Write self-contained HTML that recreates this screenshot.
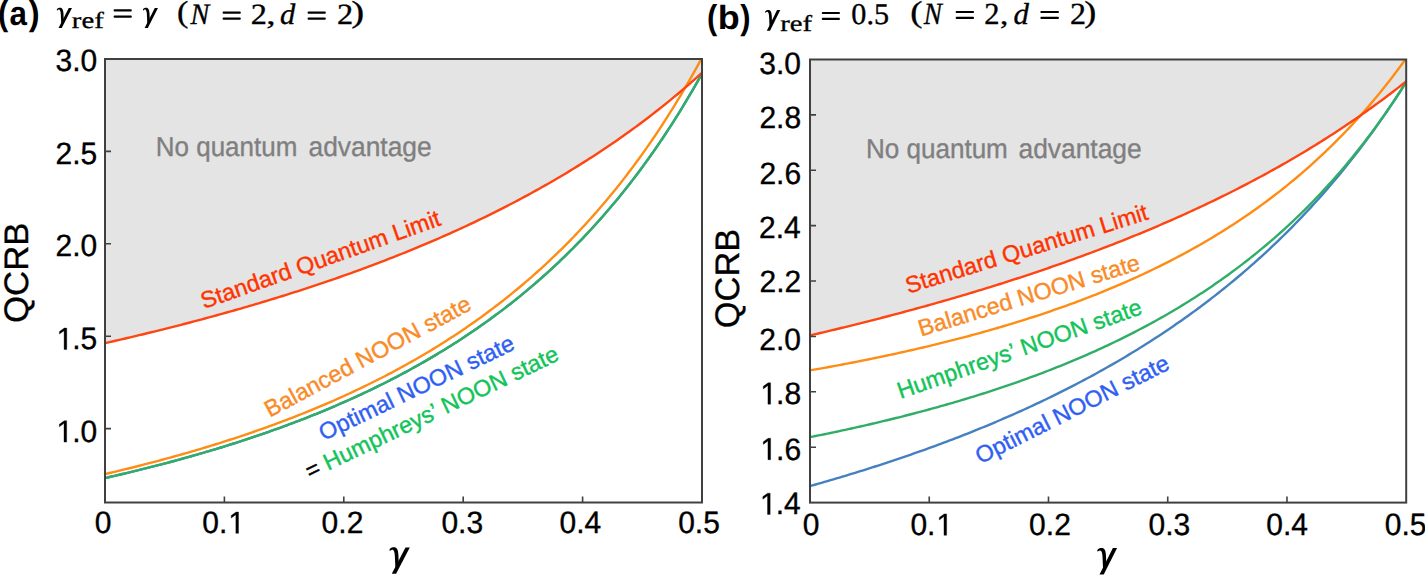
<!DOCTYPE html>
<html><head><meta charset="utf-8"><style>html,body{margin:0;padding:0;background:#fff;overflow:hidden}svg{display:block}</style></head>
<body><svg xmlns="http://www.w3.org/2000/svg" width="1425" height="575" viewBox="0 0 1425 575">
<rect x="0" y="0" width="1425" height="575" fill="#fff"/>
<clipPath id="clipa"><rect x="105.0" y="59.0" width="597.0" height="443.5"/></clipPath>
<g clip-path="url(#clipa)">
<path d="M105.00,59.00 L702.00,59.00 L712.34,63.26 L709.35,66.05 L706.37,68.81 L703.38,71.55 L700.40,74.25 L697.41,76.93 L694.43,79.58 L691.44,82.21 L688.46,84.81 L685.47,87.39 L682.49,89.94 L679.50,92.46 L676.52,94.97 L673.53,97.44 L670.55,99.90 L667.56,102.33 L664.58,104.74 L661.60,107.12 L658.61,109.48 L655.62,111.82 L652.64,114.14 L649.65,116.44 L646.67,118.72 L643.68,120.97 L640.70,123.21 L637.72,125.42 L634.73,127.62 L631.75,129.80 L628.76,131.95 L625.77,134.09 L622.79,136.21 L619.80,138.31 L616.82,140.39 L613.84,142.45 L610.85,144.49 L607.87,146.52 L604.88,148.53 L601.89,150.52 L598.91,152.50 L595.92,154.46 L592.94,156.40 L589.95,158.33 L586.97,160.24 L583.99,162.13 L581.00,164.01 L578.01,165.87 L575.03,167.72 L572.05,169.55 L569.06,171.36 L566.08,173.16 L563.09,174.95 L560.11,176.72 L557.12,178.48 L554.13,180.23 L551.15,181.96 L548.16,183.67 L545.18,185.38 L542.20,187.07 L539.21,188.74 L536.23,190.40 L533.24,192.05 L530.25,193.69 L527.27,195.32 L524.28,196.93 L521.30,198.53 L518.31,200.11 L515.33,201.69 L512.35,203.25 L509.36,204.80 L506.38,206.34 L503.39,207.87 L500.40,209.39 L497.42,210.89 L494.44,212.39 L491.45,213.87 L488.47,215.34 L485.48,216.80 L482.50,218.25 L479.51,219.69 L476.52,221.12 L473.54,222.54 L470.55,223.95 L467.57,225.35 L464.59,226.74 L461.60,228.12 L458.62,229.49 L455.63,230.84 L452.64,232.19 L449.66,233.53 L446.67,234.86 L443.69,236.19 L440.70,237.50 L437.72,238.80 L434.74,240.10 L431.75,241.38 L428.76,242.66 L425.78,243.92 L422.80,245.18 L419.81,246.43 L416.83,247.68 L413.84,248.91 L410.86,250.13 L407.87,251.35 L404.88,252.56 L401.90,253.76 L398.91,254.95 L395.93,256.14 L392.95,257.31 L389.96,258.48 L386.98,259.65 L383.99,260.80 L381.00,261.95 L378.02,263.09 L375.03,264.22 L372.05,265.34 L369.07,266.46 L366.08,267.57 L363.10,268.67 L360.11,269.77 L357.12,270.86 L354.14,271.94 L351.15,273.01 L348.17,274.08 L345.19,275.14 L342.20,276.20 L339.22,277.25 L336.23,278.29 L333.25,279.32 L330.26,280.35 L327.27,281.38 L324.29,282.39 L321.31,283.40 L318.32,284.41 L315.34,285.41 L312.35,286.40 L309.37,287.38 L306.38,288.36 L303.39,289.34 L300.41,290.31 L297.43,291.27 L294.44,292.23 L291.46,293.18 L288.47,294.12 L285.49,295.06 L282.50,296.00 L279.51,296.93 L276.53,297.85 L273.54,298.77 L270.56,299.68 L267.58,300.59 L264.59,301.49 L261.61,302.39 L258.62,303.28 L255.64,304.17 L252.65,305.05 L249.66,305.92 L246.68,306.80 L243.69,307.66 L240.71,308.53 L237.73,309.38 L234.74,310.23 L231.75,311.08 L228.77,311.92 L225.78,312.76 L222.80,313.60 L219.81,314.42 L216.83,315.25 L213.84,316.07 L210.86,316.88 L207.88,317.69 L204.89,318.50 L201.91,319.30 L198.92,320.10 L195.94,320.89 L192.95,321.68 L189.97,322.47 L186.98,323.25 L184.00,324.02 L181.01,324.80 L178.03,325.56 L175.04,326.33 L172.06,327.09 L169.07,327.84 L166.09,328.59 L163.10,329.34 L160.12,330.09 L157.13,330.83 L154.15,331.56 L151.16,332.29 L148.18,333.02 L145.19,333.75 L142.21,334.47 L139.22,335.19 L136.24,335.90 L133.25,336.61 L130.27,337.32 L127.28,338.02 L124.30,338.72 L121.31,339.41 L118.33,340.11 L115.34,340.79 L112.36,341.48 L109.37,342.16 L106.39,342.84 L103.40,343.51 L100.42,344.19 L97.43,344.85 L94.45,345.52 L91.46,346.18 Z" fill="#e4e4e4"/>
<path d="M92.66,480.80 L95.64,480.14 L98.63,479.48 L101.61,478.82 L104.60,478.14 L107.58,477.47 L110.57,476.79 L113.55,476.10 L116.54,475.41 L119.52,474.71 L122.51,474.01 L125.50,473.31 L128.48,472.59 L131.47,471.88 L134.45,471.15 L137.44,470.42 L140.42,469.69 L143.41,468.95 L146.39,468.20 L149.38,467.45 L152.36,466.69 L155.34,465.93 L158.33,465.16 L161.31,464.38 L164.30,463.60 L167.28,462.81 L170.27,462.02 L173.25,461.22 L176.24,460.41 L179.22,459.60 L182.21,458.78 L185.19,457.95 L188.18,457.11 L191.16,456.27 L194.15,455.43 L197.13,454.57 L200.12,453.71 L203.11,452.84 L206.09,451.97 L209.07,451.09 L212.06,450.20 L215.04,449.30 L218.03,448.40 L221.01,447.48 L224.00,446.56 L226.98,445.64 L229.97,444.70 L232.95,443.76 L235.94,442.81 L238.93,441.85 L241.91,440.88 L244.89,439.91 L247.88,438.92 L250.86,437.93 L253.85,436.93 L256.84,435.92 L259.82,434.90 L262.81,433.88 L265.79,432.84 L268.77,431.80 L271.76,430.74 L274.75,429.68 L277.73,428.61 L280.71,427.53 L283.70,426.44 L286.69,425.33 L289.67,424.22 L292.65,423.10 L295.64,421.97 L298.62,420.83 L301.61,419.68 L304.60,418.52 L307.58,417.35 L310.56,416.16 L313.55,414.97 L316.53,413.77 L319.52,412.55 L322.50,411.32 L325.49,410.09 L328.48,408.84 L331.46,407.58 L334.44,406.30 L337.43,405.02 L340.41,403.72 L343.40,402.41 L346.38,401.09 L349.37,399.76 L352.36,398.41 L355.34,397.06 L358.32,395.68 L361.31,394.30 L364.29,392.90 L367.28,391.49 L370.26,390.06 L373.25,388.62 L376.24,387.17 L379.22,385.70 L382.21,384.22 L385.19,382.73 L388.17,381.21 L391.16,379.69 L394.14,378.15 L397.13,376.59 L400.12,375.02 L403.10,373.43 L406.09,371.83 L409.07,370.21 L412.05,368.57 L415.04,366.92 L418.02,365.25 L421.01,363.56 L424.00,361.86 L426.98,360.14 L429.97,358.40 L432.95,356.64 L435.94,354.87 L438.92,353.07 L441.90,351.26 L444.89,349.43 L447.88,347.57 L450.86,345.70 L453.85,343.81 L456.83,341.90 L459.81,339.97 L462.80,338.02 L465.78,336.05 L468.77,334.05 L471.75,332.04 L474.74,330.00 L477.73,327.94 L480.71,325.85 L483.70,323.75 L486.68,321.62 L489.66,319.47 L492.65,317.29 L495.63,315.09 L498.62,312.86 L501.61,310.61 L504.59,308.34 L507.58,306.03 L510.56,303.71 L513.55,301.35 L516.53,298.97 L519.51,296.56 L522.50,294.12 L525.49,291.66 L528.47,289.16 L531.45,286.64 L534.44,284.09 L537.42,281.50 L540.41,278.89 L543.39,276.25 L546.38,273.57 L549.37,270.86 L552.35,268.12 L555.34,265.35 L558.32,262.54 L561.30,259.70 L564.29,256.82 L567.27,253.91 L570.26,250.96 L573.25,247.98 L576.23,244.96 L579.22,241.90 L582.20,238.80 L585.19,235.67 L588.17,232.49 L591.15,229.27 L594.14,226.02 L597.12,222.72 L600.11,219.38 L603.10,215.99 L606.08,212.57 L609.06,209.09 L612.05,205.57 L615.03,202.01 L618.02,198.40 L621.00,194.74 L623.99,191.03 L626.98,187.28 L629.96,183.47 L632.95,179.61 L635.93,175.70 L638.92,171.73 L641.90,167.72 L644.88,163.64 L647.87,159.51 L650.86,155.32 L653.84,151.08 L656.83,146.77 L659.81,142.41 L662.80,137.98 L665.78,133.49 L668.76,128.94 L671.75,124.32 L674.74,119.63 L677.72,114.88 L680.71,110.06 L683.69,105.17 L686.67,100.20 L689.66,95.16 L692.64,90.05 L695.63,84.86 L698.62,79.60 L701.60,74.25 L704.58,68.83 L707.57,63.32 L710.55,57.73 L713.54,52.05" fill="none" stroke="#4580bf" stroke-width="2.4" stroke-linejoin="round"/>
<path d="M92.66,480.80 L95.64,480.14 L98.63,479.48 L101.61,478.82 L104.60,478.14 L107.58,477.47 L110.57,476.79 L113.55,476.10 L116.54,475.41 L119.52,474.71 L122.51,474.01 L125.50,473.31 L128.48,472.59 L131.47,471.88 L134.45,471.15 L137.44,470.42 L140.42,469.69 L143.41,468.95 L146.39,468.20 L149.38,467.45 L152.36,466.69 L155.34,465.93 L158.33,465.16 L161.31,464.38 L164.30,463.60 L167.28,462.81 L170.27,462.02 L173.25,461.22 L176.24,460.41 L179.22,459.60 L182.21,458.78 L185.19,457.95 L188.18,457.11 L191.16,456.27 L194.15,455.43 L197.13,454.57 L200.12,453.71 L203.11,452.84 L206.09,451.97 L209.07,451.09 L212.06,450.20 L215.04,449.30 L218.03,448.40 L221.01,447.48 L224.00,446.56 L226.98,445.64 L229.97,444.70 L232.95,443.76 L235.94,442.81 L238.93,441.85 L241.91,440.88 L244.89,439.91 L247.88,438.92 L250.86,437.93 L253.85,436.93 L256.84,435.92 L259.82,434.90 L262.81,433.88 L265.79,432.84 L268.77,431.80 L271.76,430.74 L274.75,429.68 L277.73,428.61 L280.71,427.53 L283.70,426.44 L286.69,425.33 L289.67,424.22 L292.65,423.10 L295.64,421.97 L298.62,420.83 L301.61,419.68 L304.60,418.52 L307.58,417.35 L310.56,416.16 L313.55,414.97 L316.53,413.77 L319.52,412.55 L322.50,411.32 L325.49,410.09 L328.48,408.84 L331.46,407.58 L334.44,406.30 L337.43,405.02 L340.41,403.72 L343.40,402.41 L346.38,401.09 L349.37,399.76 L352.36,398.41 L355.34,397.06 L358.32,395.68 L361.31,394.30 L364.29,392.90 L367.28,391.49 L370.26,390.06 L373.25,388.62 L376.24,387.17 L379.22,385.70 L382.21,384.22 L385.19,382.73 L388.17,381.21 L391.16,379.69 L394.14,378.15 L397.13,376.59 L400.12,375.02 L403.10,373.43 L406.09,371.83 L409.07,370.21 L412.05,368.57 L415.04,366.92 L418.02,365.25 L421.01,363.56 L424.00,361.86 L426.98,360.14 L429.97,358.40 L432.95,356.64 L435.94,354.87 L438.92,353.07 L441.90,351.26 L444.89,349.43 L447.88,347.57 L450.86,345.70 L453.85,343.81 L456.83,341.90 L459.81,339.97 L462.80,338.02 L465.78,336.05 L468.77,334.05 L471.75,332.04 L474.74,330.00 L477.73,327.94 L480.71,325.85 L483.70,323.75 L486.68,321.62 L489.66,319.47 L492.65,317.29 L495.63,315.09 L498.62,312.86 L501.61,310.61 L504.59,308.34 L507.58,306.03 L510.56,303.71 L513.55,301.35 L516.53,298.97 L519.51,296.56 L522.50,294.12 L525.49,291.66 L528.47,289.16 L531.45,286.64 L534.44,284.09 L537.42,281.50 L540.41,278.89 L543.39,276.25 L546.38,273.57 L549.37,270.86 L552.35,268.12 L555.34,265.35 L558.32,262.54 L561.30,259.70 L564.29,256.82 L567.27,253.91 L570.26,250.96 L573.25,247.98 L576.23,244.96 L579.22,241.90 L582.20,238.80 L585.19,235.67 L588.17,232.49 L591.15,229.27 L594.14,226.02 L597.12,222.72 L600.11,219.38 L603.10,215.99 L606.08,212.57 L609.06,209.09 L612.05,205.57 L615.03,202.01 L618.02,198.40 L621.00,194.74 L623.99,191.03 L626.98,187.28 L629.96,183.47 L632.95,179.61 L635.93,175.70 L638.92,171.73 L641.90,167.72 L644.88,163.64 L647.87,159.51 L650.86,155.32 L653.84,151.08 L656.83,146.77 L659.81,142.41 L662.80,137.98 L665.78,133.49 L668.76,128.94 L671.75,124.32 L674.74,119.63 L677.72,114.88 L680.71,110.06 L683.69,105.17 L686.67,100.20 L689.66,95.16 L692.64,90.05 L695.63,84.86 L698.62,79.60 L701.60,74.25 L704.58,68.83 L707.57,63.32 L710.55,57.73 L713.54,52.05" fill="none" stroke="#30ae68" stroke-width="2.4" stroke-linejoin="round"/>
<path d="M92.66,476.91 L95.64,476.24 L98.63,475.56 L101.61,474.87 L104.60,474.18 L107.58,473.49 L110.57,472.78 L113.55,472.08 L116.54,471.37 L119.52,470.65 L122.51,469.93 L125.50,469.20 L128.48,468.47 L131.47,467.73 L134.45,466.98 L137.44,466.23 L140.42,465.48 L143.41,464.71 L146.39,463.95 L149.38,463.17 L152.36,462.39 L155.34,461.60 L158.33,460.81 L161.31,460.01 L164.30,459.21 L167.28,458.40 L170.27,457.58 L173.25,456.75 L176.24,455.92 L179.22,455.09 L182.21,454.24 L185.19,453.39 L188.18,452.53 L191.16,451.67 L194.15,450.80 L197.13,449.92 L200.12,449.03 L203.11,448.14 L206.09,447.24 L209.07,446.33 L212.06,445.41 L215.04,444.49 L218.03,443.56 L221.01,442.62 L224.00,441.67 L226.98,440.72 L229.97,439.75 L232.95,438.78 L235.94,437.80 L238.93,436.82 L241.91,435.82 L244.89,434.82 L247.88,433.81 L250.86,432.78 L253.85,431.75 L256.84,430.72 L259.82,429.67 L262.81,428.61 L265.79,427.54 L268.77,426.47 L271.76,425.38 L274.75,424.29 L277.73,423.19 L280.71,422.07 L283.70,420.95 L286.69,419.82 L289.67,418.67 L292.65,417.52 L295.64,416.36 L298.62,415.18 L301.61,414.00 L304.60,412.80 L307.58,411.59 L310.56,410.38 L313.55,409.15 L316.53,407.91 L319.52,406.66 L322.50,405.39 L325.49,404.12 L328.48,402.83 L331.46,401.54 L334.44,400.23 L337.43,398.90 L340.41,397.57 L343.40,396.22 L346.38,394.86 L349.37,393.49 L352.36,392.10 L355.34,390.71 L358.32,389.29 L361.31,387.87 L364.29,386.43 L367.28,384.97 L370.26,383.51 L373.25,382.03 L376.24,380.53 L379.22,379.02 L382.21,377.49 L385.19,375.95 L388.17,374.40 L391.16,372.83 L394.14,371.24 L397.13,369.64 L400.12,368.02 L403.10,366.39 L406.09,364.74 L409.07,363.07 L412.05,361.38 L415.04,359.68 L418.02,357.96 L421.01,356.23 L424.00,354.47 L426.98,352.70 L429.97,350.91 L432.95,349.10 L435.94,347.27 L438.92,345.43 L441.90,343.56 L444.89,341.67 L447.88,339.77 L450.86,337.84 L453.85,335.90 L456.83,333.93 L459.81,331.94 L462.80,329.93 L465.78,327.90 L468.77,325.85 L471.75,323.77 L474.74,321.67 L477.73,319.55 L480.71,317.41 L483.70,315.24 L486.68,313.05 L489.66,310.83 L492.65,308.59 L495.63,306.33 L498.62,304.03 L501.61,301.72 L504.59,299.37 L507.58,297.00 L510.56,294.61 L513.55,292.18 L516.53,289.73 L519.51,287.25 L522.50,284.74 L525.49,282.20 L528.47,279.64 L531.45,277.04 L534.44,274.41 L537.42,271.75 L540.41,269.06 L543.39,266.34 L546.38,263.58 L549.37,260.80 L552.35,257.97 L555.34,255.12 L558.32,252.23 L561.30,249.30 L564.29,246.34 L567.27,243.35 L570.26,240.31 L573.25,237.24 L576.23,234.13 L579.22,230.98 L582.20,227.79 L585.19,224.56 L588.17,221.29 L591.15,217.98 L594.14,214.63 L597.12,211.24 L600.11,207.80 L603.10,204.31 L606.08,200.78 L609.06,197.21 L612.05,193.59 L615.03,189.92 L618.02,186.20 L621.00,182.43 L623.99,178.62 L626.98,174.75 L629.96,170.83 L632.95,166.86 L635.93,162.83 L638.92,158.75 L641.90,154.61 L644.88,150.42 L647.87,146.17 L650.86,141.86 L653.84,137.49 L656.83,133.06 L659.81,128.56 L662.80,124.01 L665.78,119.38 L668.76,114.70 L671.75,109.94 L674.74,105.12 L677.72,100.22 L680.71,95.26 L683.69,90.22 L686.67,85.11 L689.66,79.93 L692.64,74.66 L695.63,69.32 L698.62,63.90 L701.60,58.40 L704.58,52.81 L707.57,47.14 L710.55,41.39 L713.54,35.54" fill="none" stroke="#ff8c14" stroke-width="2.4" stroke-linejoin="round"/>
<path d="M91.46,346.18 L94.45,345.52 L97.43,344.85 L100.42,344.19 L103.40,343.51 L106.39,342.84 L109.37,342.16 L112.36,341.48 L115.34,340.79 L118.33,340.11 L121.31,339.41 L124.30,338.72 L127.28,338.02 L130.27,337.32 L133.25,336.61 L136.24,335.90 L139.22,335.19 L142.21,334.47 L145.19,333.75 L148.18,333.02 L151.16,332.29 L154.15,331.56 L157.13,330.83 L160.12,330.09 L163.10,329.34 L166.09,328.59 L169.07,327.84 L172.06,327.09 L175.04,326.33 L178.03,325.56 L181.01,324.80 L184.00,324.02 L186.98,323.25 L189.97,322.47 L192.95,321.68 L195.94,320.89 L198.92,320.10 L201.91,319.30 L204.89,318.50 L207.88,317.69 L210.86,316.88 L213.84,316.07 L216.83,315.25 L219.81,314.42 L222.80,313.60 L225.78,312.76 L228.77,311.92 L231.75,311.08 L234.74,310.23 L237.73,309.38 L240.71,308.53 L243.69,307.66 L246.68,306.80 L249.66,305.92 L252.65,305.05 L255.64,304.17 L258.62,303.28 L261.61,302.39 L264.59,301.49 L267.58,300.59 L270.56,299.68 L273.54,298.77 L276.53,297.85 L279.51,296.93 L282.50,296.00 L285.49,295.06 L288.47,294.12 L291.46,293.18 L294.44,292.23 L297.43,291.27 L300.41,290.31 L303.39,289.34 L306.38,288.36 L309.37,287.38 L312.35,286.40 L315.34,285.41 L318.32,284.41 L321.31,283.40 L324.29,282.39 L327.27,281.38 L330.26,280.35 L333.25,279.32 L336.23,278.29 L339.22,277.25 L342.20,276.20 L345.19,275.14 L348.17,274.08 L351.15,273.01 L354.14,271.94 L357.12,270.86 L360.11,269.77 L363.10,268.67 L366.08,267.57 L369.07,266.46 L372.05,265.34 L375.03,264.22 L378.02,263.09 L381.00,261.95 L383.99,260.80 L386.98,259.65 L389.96,258.48 L392.95,257.31 L395.93,256.14 L398.91,254.95 L401.90,253.76 L404.88,252.56 L407.87,251.35 L410.86,250.13 L413.84,248.91 L416.83,247.68 L419.81,246.43 L422.80,245.18 L425.78,243.92 L428.76,242.66 L431.75,241.38 L434.74,240.10 L437.72,238.80 L440.70,237.50 L443.69,236.19 L446.67,234.86 L449.66,233.53 L452.64,232.19 L455.63,230.84 L458.62,229.49 L461.60,228.12 L464.59,226.74 L467.57,225.35 L470.55,223.95 L473.54,222.54 L476.52,221.12 L479.51,219.69 L482.50,218.25 L485.48,216.80 L488.47,215.34 L491.45,213.87 L494.44,212.39 L497.42,210.89 L500.40,209.39 L503.39,207.87 L506.38,206.34 L509.36,204.80 L512.35,203.25 L515.33,201.69 L518.31,200.11 L521.30,198.53 L524.28,196.93 L527.27,195.32 L530.25,193.69 L533.24,192.05 L536.23,190.40 L539.21,188.74 L542.20,187.07 L545.18,185.38 L548.16,183.67 L551.15,181.96 L554.13,180.23 L557.12,178.48 L560.11,176.72 L563.09,174.95 L566.08,173.16 L569.06,171.36 L572.05,169.55 L575.03,167.72 L578.01,165.87 L581.00,164.01 L583.99,162.13 L586.97,160.24 L589.95,158.33 L592.94,156.40 L595.92,154.46 L598.91,152.50 L601.89,150.52 L604.88,148.53 L607.87,146.52 L610.85,144.49 L613.84,142.45 L616.82,140.39 L619.80,138.31 L622.79,136.21 L625.77,134.09 L628.76,131.95 L631.75,129.80 L634.73,127.62 L637.72,125.42 L640.70,123.21 L643.68,120.97 L646.67,118.72 L649.65,116.44 L652.64,114.14 L655.62,111.82 L658.61,109.48 L661.60,107.12 L664.58,104.74 L667.56,102.33 L670.55,99.90 L673.53,97.44 L676.52,94.97 L679.50,92.46 L682.49,89.94 L685.47,87.39 L688.46,84.81 L691.44,82.21 L694.43,79.58 L697.41,76.93 L700.40,74.25 L703.38,71.55 L706.37,68.81 L709.35,66.05 L712.34,63.26" fill="none" stroke="#ff4510" stroke-width="2.4" stroke-linejoin="round"/>
</g>
<rect x="105.0" y="59.0" width="597.0" height="443.5" fill="none" stroke="#404040" stroke-width="2"/>
<path d="M224.40,502.5 V496.5 M343.80,502.5 V496.5 M463.20,502.5 V496.5 M582.60,502.5 V496.5 M105.0,151.40 H111.0 M105.0,243.79 H111.0 M105.0,336.19 H111.0 M105.0,428.58 H111.0" stroke="#404040" stroke-width="1.6" fill="none"/>
<clipPath id="clipb"><rect x="810.0" y="59.5" width="596.2" height="443.1"/></clipPath>
<g clip-path="url(#clipb)">
<path d="M810.00,59.50 L1406.20,59.50 L1416.52,73.03 L1413.54,75.47 L1410.56,77.89 L1407.58,80.28 L1404.60,82.66 L1401.62,85.01 L1398.64,87.34 L1395.66,89.65 L1392.68,91.95 L1389.70,94.22 L1386.71,96.47 L1383.73,98.70 L1380.75,100.91 L1377.77,103.11 L1374.79,105.28 L1371.81,107.44 L1368.83,109.58 L1365.85,111.70 L1362.87,113.80 L1359.88,115.89 L1356.90,117.96 L1353.92,120.01 L1350.94,122.04 L1347.96,124.06 L1344.98,126.06 L1342.00,128.04 L1339.02,130.01 L1336.04,131.97 L1333.06,133.90 L1330.08,135.83 L1327.09,137.73 L1324.11,139.63 L1321.13,141.50 L1318.15,143.37 L1315.17,145.21 L1312.19,147.05 L1309.21,148.87 L1306.23,150.67 L1303.25,152.47 L1300.26,154.24 L1297.28,156.01 L1294.30,157.76 L1291.32,159.50 L1288.34,161.22 L1285.36,162.94 L1282.38,164.64 L1279.40,166.33 L1276.42,168.00 L1273.44,169.66 L1270.45,171.31 L1267.47,172.95 L1264.49,174.58 L1261.51,176.20 L1258.53,177.80 L1255.55,179.39 L1252.57,180.97 L1249.59,182.54 L1246.61,184.10 L1243.63,185.65 L1240.64,187.19 L1237.66,188.71 L1234.68,190.23 L1231.70,191.74 L1228.72,193.23 L1225.74,194.72 L1222.76,196.19 L1219.78,197.66 L1216.80,199.11 L1213.82,200.56 L1210.84,201.99 L1207.85,203.42 L1204.87,204.83 L1201.89,206.24 L1198.91,207.64 L1195.93,209.03 L1192.95,210.41 L1189.97,211.78 L1186.99,213.14 L1184.01,214.49 L1181.03,215.84 L1178.04,217.17 L1175.06,218.50 L1172.08,219.82 L1169.10,221.13 L1166.12,222.43 L1163.14,223.72 L1160.16,225.01 L1157.18,226.28 L1154.20,227.55 L1151.21,228.81 L1148.23,230.07 L1145.25,231.31 L1142.27,232.55 L1139.29,233.78 L1136.31,235.01 L1133.33,236.22 L1130.35,237.43 L1127.37,238.63 L1124.39,239.82 L1121.40,241.01 L1118.42,242.19 L1115.44,243.36 L1112.46,244.53 L1109.48,245.69 L1106.50,246.84 L1103.52,247.98 L1100.54,249.12 L1097.56,250.25 L1094.58,251.38 L1091.60,252.50 L1088.61,253.61 L1085.63,254.72 L1082.65,255.81 L1079.67,256.91 L1076.69,257.99 L1073.71,259.08 L1070.73,260.15 L1067.75,261.22 L1064.77,262.28 L1061.79,263.34 L1058.80,264.39 L1055.82,265.43 L1052.84,266.47 L1049.86,267.50 L1046.88,268.53 L1043.90,269.55 L1040.92,270.57 L1037.94,271.58 L1034.96,272.59 L1031.97,273.59 L1028.99,274.58 L1026.01,275.57 L1023.03,276.55 L1020.05,277.53 L1017.07,278.50 L1014.09,279.47 L1011.11,280.44 L1008.13,281.39 L1005.15,282.35 L1002.16,283.29 L999.18,284.24 L996.20,285.17 L993.22,286.11 L990.24,287.04 L987.26,287.96 L984.28,288.88 L981.30,289.79 L978.32,290.70 L975.34,291.60 L972.36,292.50 L969.37,293.40 L966.39,294.29 L963.41,295.18 L960.43,296.06 L957.45,296.94 L954.47,297.81 L951.49,298.68 L948.51,299.54 L945.53,300.40 L942.54,301.26 L939.56,302.11 L936.58,302.95 L933.60,303.80 L930.62,304.64 L927.64,305.47 L924.66,306.30 L921.68,307.13 L918.70,307.95 L915.72,308.77 L912.74,309.59 L909.75,310.40 L906.77,311.20 L903.79,312.01 L900.81,312.81 L897.83,313.60 L894.85,314.39 L891.87,315.18 L888.89,315.97 L885.91,316.75 L882.92,317.52 L879.94,318.30 L876.96,319.07 L873.98,319.83 L871.00,320.60 L868.02,321.36 L865.04,322.11 L862.06,322.86 L859.08,323.61 L856.10,324.36 L853.12,325.10 L850.13,325.84 L847.15,326.57 L844.17,327.31 L841.19,328.03 L838.21,328.76 L835.23,329.48 L832.25,330.20 L829.27,330.92 L826.29,331.63 L823.30,332.34 L820.32,333.04 L817.34,333.75 L814.36,334.45 L811.38,335.14 L808.40,335.84 L805.42,336.53 L802.44,337.22 L799.46,337.90 L796.48,338.58 Z" fill="#e4e4e4"/>
<path d="M797.68,489.49 L800.66,488.67 L803.64,487.85 L806.62,487.02 L809.60,486.18 L812.58,485.35 L815.56,484.50 L818.54,483.65 L821.52,482.80 L824.50,481.94 L827.49,481.08 L830.47,480.21 L833.45,479.33 L836.43,478.45 L839.41,477.57 L842.39,476.68 L845.37,475.78 L848.35,474.88 L851.33,473.97 L854.32,473.06 L857.30,472.14 L860.28,471.21 L863.26,470.28 L866.24,469.34 L869.22,468.40 L872.20,467.45 L875.18,466.49 L878.16,465.53 L881.14,464.57 L884.12,463.59 L887.11,462.61 L890.09,461.62 L893.07,460.63 L896.05,459.63 L899.03,458.62 L902.01,457.61 L904.99,456.59 L907.97,455.57 L910.95,454.53 L913.94,453.49 L916.92,452.45 L919.90,451.39 L922.88,450.33 L925.86,449.26 L928.84,448.19 L931.82,447.10 L934.80,446.01 L937.78,444.92 L940.76,443.81 L943.75,442.70 L946.73,441.58 L949.71,440.45 L952.69,439.31 L955.67,438.17 L958.65,437.02 L961.63,435.86 L964.61,434.69 L967.59,433.51 L970.57,432.33 L973.56,431.13 L976.54,429.93 L979.52,428.72 L982.50,427.50 L985.48,426.27 L988.46,425.04 L991.44,423.79 L994.42,422.54 L997.40,421.27 L1000.38,420.00 L1003.37,418.72 L1006.35,417.42 L1009.33,416.12 L1012.31,414.81 L1015.29,413.49 L1018.27,412.16 L1021.25,410.82 L1024.23,409.47 L1027.21,408.11 L1030.19,406.74 L1033.17,405.35 L1036.16,403.96 L1039.14,402.56 L1042.12,401.14 L1045.10,399.72 L1048.08,398.28 L1051.06,396.84 L1054.04,395.38 L1057.02,393.91 L1060.00,392.43 L1062.99,390.94 L1065.97,389.43 L1068.95,387.92 L1071.93,386.39 L1074.91,384.85 L1077.89,383.30 L1080.87,381.73 L1083.85,380.15 L1086.83,378.56 L1089.81,376.96 L1092.80,375.34 L1095.78,373.71 L1098.76,372.07 L1101.74,370.42 L1104.72,368.75 L1107.70,367.06 L1110.68,365.36 L1113.66,363.65 L1116.64,361.92 L1119.62,360.18 L1122.61,358.43 L1125.59,356.66 L1128.57,354.87 L1131.55,353.07 L1134.53,351.25 L1137.51,349.42 L1140.49,347.58 L1143.47,345.71 L1146.45,343.83 L1149.43,341.94 L1152.41,340.02 L1155.40,338.09 L1158.38,336.15 L1161.36,334.18 L1164.34,332.20 L1167.32,330.20 L1170.30,328.18 L1173.28,326.15 L1176.26,324.09 L1179.24,322.02 L1182.22,319.93 L1185.21,317.82 L1188.19,315.69 L1191.17,313.54 L1194.15,311.37 L1197.13,309.18 L1200.11,306.97 L1203.09,304.74 L1206.07,302.49 L1209.05,300.21 L1212.04,297.92 L1215.02,295.60 L1218.00,293.26 L1220.98,290.90 L1223.96,288.51 L1226.94,286.11 L1229.92,283.68 L1232.90,281.22 L1235.88,278.74 L1238.86,276.24 L1241.85,273.71 L1244.83,271.16 L1247.81,268.58 L1250.79,265.97 L1253.77,263.34 L1256.75,260.68 L1259.73,258.00 L1262.71,255.29 L1265.69,252.55 L1268.67,249.78 L1271.66,246.98 L1274.64,244.16 L1277.62,241.30 L1280.60,238.42 L1283.58,235.50 L1286.56,232.55 L1289.54,229.57 L1292.52,226.56 L1295.50,223.52 L1298.48,220.45 L1301.47,217.34 L1304.45,214.19 L1307.43,211.02 L1310.41,207.81 L1313.39,204.56 L1316.37,201.28 L1319.35,197.96 L1322.33,194.60 L1325.31,191.20 L1328.29,187.77 L1331.28,184.30 L1334.26,180.78 L1337.24,177.23 L1340.22,173.64 L1343.20,170.00 L1346.18,166.33 L1349.16,162.60 L1352.14,158.84 L1355.12,155.03 L1358.10,151.18 L1361.09,147.28 L1364.07,143.33 L1367.05,139.33 L1370.03,135.29 L1373.01,131.20 L1375.99,127.05 L1378.97,122.86 L1381.95,118.61 L1384.93,114.32 L1387.91,109.96 L1390.89,105.55 L1393.88,101.09 L1396.86,96.57 L1399.84,91.99 L1402.82,87.35 L1405.80,82.66 L1408.78,77.90 L1411.76,73.08 L1414.74,68.19 L1417.72,63.25" fill="none" stroke="#4580bf" stroke-width="2.4" stroke-linejoin="round"/>
<path d="M797.68,439.56 L800.66,438.98 L803.64,438.40 L806.62,437.82 L809.60,437.23 L812.58,436.64 L815.56,436.04 L818.54,435.44 L821.52,434.83 L824.50,434.22 L827.49,433.60 L830.47,432.98 L833.45,432.36 L836.43,431.73 L839.41,431.09 L842.39,430.45 L845.37,429.81 L848.35,429.16 L851.33,428.50 L854.32,427.84 L857.30,427.17 L860.28,426.50 L863.26,425.83 L866.24,425.15 L869.22,424.46 L872.20,423.77 L875.18,423.07 L878.16,422.37 L881.14,421.66 L884.12,420.94 L887.11,420.22 L890.09,419.50 L893.07,418.77 L896.05,418.03 L899.03,417.29 L902.01,416.54 L904.99,415.78 L907.97,415.02 L910.95,414.25 L913.94,413.48 L916.92,412.69 L919.90,411.91 L922.88,411.11 L925.86,410.31 L928.84,409.51 L931.82,408.69 L934.80,407.87 L937.78,407.04 L940.76,406.21 L943.75,405.37 L946.73,404.52 L949.71,403.66 L952.69,402.80 L955.67,401.93 L958.65,401.05 L961.63,400.16 L964.61,399.27 L967.59,398.37 L970.57,397.46 L973.56,396.54 L976.54,395.62 L979.52,394.68 L982.50,393.74 L985.48,392.79 L988.46,391.83 L991.44,390.87 L994.42,389.89 L997.40,388.91 L1000.38,387.92 L1003.37,386.91 L1006.35,385.90 L1009.33,384.88 L1012.31,383.86 L1015.29,382.82 L1018.27,381.77 L1021.25,380.71 L1024.23,379.65 L1027.21,378.57 L1030.19,377.48 L1033.17,376.39 L1036.16,375.28 L1039.14,374.16 L1042.12,373.03 L1045.10,371.90 L1048.08,370.75 L1051.06,369.59 L1054.04,368.42 L1057.02,367.23 L1060.00,366.04 L1062.99,364.84 L1065.97,363.62 L1068.95,362.39 L1071.93,361.15 L1074.91,359.90 L1077.89,358.64 L1080.87,357.36 L1083.85,356.08 L1086.83,354.78 L1089.81,353.46 L1092.80,352.14 L1095.78,350.80 L1098.76,349.44 L1101.74,348.08 L1104.72,346.70 L1107.70,345.30 L1110.68,343.90 L1113.66,342.47 L1116.64,341.04 L1119.62,339.59 L1122.61,338.12 L1125.59,336.64 L1128.57,335.14 L1131.55,333.63 L1134.53,332.11 L1137.51,330.56 L1140.49,329.00 L1143.47,327.43 L1146.45,325.84 L1149.43,324.23 L1152.41,322.60 L1155.40,320.96 L1158.38,319.30 L1161.36,317.62 L1164.34,315.93 L1167.32,314.21 L1170.30,312.48 L1173.28,310.73 L1176.26,308.96 L1179.24,307.17 L1182.22,305.36 L1185.21,303.53 L1188.19,301.69 L1191.17,299.82 L1194.15,297.93 L1197.13,296.02 L1200.11,294.08 L1203.09,292.13 L1206.07,290.15 L1209.05,288.16 L1212.04,286.14 L1215.02,284.09 L1218.00,282.02 L1220.98,279.93 L1223.96,277.82 L1226.94,275.68 L1229.92,273.51 L1232.90,271.32 L1235.88,269.11 L1238.86,266.87 L1241.85,264.60 L1244.83,262.31 L1247.81,259.98 L1250.79,257.64 L1253.77,255.26 L1256.75,252.85 L1259.73,250.42 L1262.71,247.95 L1265.69,245.46 L1268.67,242.93 L1271.66,240.38 L1274.64,237.79 L1277.62,235.17 L1280.60,232.52 L1283.58,229.83 L1286.56,227.11 L1289.54,224.36 L1292.52,221.57 L1295.50,218.75 L1298.48,215.89 L1301.47,212.99 L1304.45,210.06 L1307.43,207.09 L1310.41,204.08 L1313.39,201.03 L1316.37,197.94 L1319.35,194.81 L1322.33,191.64 L1325.31,188.43 L1328.29,185.18 L1331.28,181.88 L1334.26,178.54 L1337.24,175.15 L1340.22,171.72 L1343.20,168.23 L1346.18,164.71 L1349.16,161.13 L1352.14,157.51 L1355.12,153.83 L1358.10,150.10 L1361.09,146.32 L1364.07,142.49 L1367.05,138.60 L1370.03,134.66 L1373.01,130.67 L1375.99,126.61 L1378.97,122.50 L1381.95,118.32 L1384.93,114.09 L1387.91,109.80 L1390.89,105.44 L1393.88,101.02 L1396.86,96.53 L1399.84,91.97 L1402.82,87.35 L1405.80,82.66 L1408.78,77.89 L1411.76,73.06 L1414.74,68.15 L1417.72,63.16" fill="none" stroke="#30ae68" stroke-width="2.4" stroke-linejoin="round"/>
<path d="M797.68,372.50 L800.66,372.00 L803.64,371.49 L806.62,370.97 L809.60,370.45 L812.58,369.93 L815.56,369.41 L818.54,368.88 L821.52,368.35 L824.50,367.81 L827.49,367.27 L830.47,366.72 L833.45,366.17 L836.43,365.62 L839.41,365.06 L842.39,364.50 L845.37,363.93 L848.35,363.36 L851.33,362.78 L854.32,362.20 L857.30,361.62 L860.28,361.03 L863.26,360.44 L866.24,359.84 L869.22,359.24 L872.20,358.63 L875.18,358.01 L878.16,357.40 L881.14,356.77 L884.12,356.15 L887.11,355.51 L890.09,354.88 L893.07,354.23 L896.05,353.58 L899.03,352.93 L902.01,352.27 L904.99,351.61 L907.97,350.94 L910.95,350.26 L913.94,349.58 L916.92,348.90 L919.90,348.20 L922.88,347.51 L925.86,346.80 L928.84,346.09 L931.82,345.38 L934.80,344.66 L937.78,343.93 L940.76,343.20 L943.75,342.46 L946.73,341.71 L949.71,340.96 L952.69,340.20 L955.67,339.44 L958.65,338.66 L961.63,337.88 L964.61,337.10 L967.59,336.31 L970.57,335.51 L973.56,334.70 L976.54,333.89 L979.52,333.07 L982.50,332.24 L985.48,331.41 L988.46,330.57 L991.44,329.72 L994.42,328.86 L997.40,328.00 L1000.38,327.12 L1003.37,326.24 L1006.35,325.36 L1009.33,324.46 L1012.31,323.56 L1015.29,322.64 L1018.27,321.72 L1021.25,320.79 L1024.23,319.86 L1027.21,318.91 L1030.19,317.96 L1033.17,316.99 L1036.16,316.02 L1039.14,315.04 L1042.12,314.05 L1045.10,313.05 L1048.08,312.04 L1051.06,311.02 L1054.04,309.99 L1057.02,308.95 L1060.00,307.90 L1062.99,306.85 L1065.97,305.78 L1068.95,304.70 L1071.93,303.61 L1074.91,302.51 L1077.89,301.40 L1080.87,300.28 L1083.85,299.15 L1086.83,298.00 L1089.81,296.85 L1092.80,295.68 L1095.78,294.51 L1098.76,293.32 L1101.74,292.12 L1104.72,290.91 L1107.70,289.68 L1110.68,288.44 L1113.66,287.19 L1116.64,285.93 L1119.62,284.66 L1122.61,283.37 L1125.59,282.07 L1128.57,280.75 L1131.55,279.43 L1134.53,278.08 L1137.51,276.73 L1140.49,275.36 L1143.47,273.98 L1146.45,272.58 L1149.43,271.16 L1152.41,269.74 L1155.40,268.29 L1158.38,266.83 L1161.36,265.36 L1164.34,263.87 L1167.32,262.36 L1170.30,260.84 L1173.28,259.30 L1176.26,257.75 L1179.24,256.18 L1182.22,254.59 L1185.21,252.98 L1188.19,251.36 L1191.17,249.71 L1194.15,248.05 L1197.13,246.37 L1200.11,244.68 L1203.09,242.96 L1206.07,241.22 L1209.05,239.47 L1212.04,237.69 L1215.02,235.90 L1218.00,234.08 L1220.98,232.24 L1223.96,230.38 L1226.94,228.50 L1229.92,226.60 L1232.90,224.68 L1235.88,222.73 L1238.86,220.76 L1241.85,218.77 L1244.83,216.75 L1247.81,214.71 L1250.79,212.65 L1253.77,210.56 L1256.75,208.45 L1259.73,206.31 L1262.71,204.14 L1265.69,201.95 L1268.67,199.73 L1271.66,197.48 L1274.64,195.21 L1277.62,192.91 L1280.60,190.58 L1283.58,188.22 L1286.56,185.83 L1289.54,183.41 L1292.52,180.96 L1295.50,178.48 L1298.48,175.97 L1301.47,173.42 L1304.45,170.85 L1307.43,168.24 L1310.41,165.59 L1313.39,162.91 L1316.37,160.20 L1319.35,157.45 L1322.33,154.66 L1325.31,151.84 L1328.29,148.98 L1331.28,146.08 L1334.26,143.15 L1337.24,140.17 L1340.22,137.15 L1343.20,134.10 L1346.18,131.00 L1349.16,127.85 L1352.14,124.67 L1355.12,121.44 L1358.10,118.16 L1361.09,114.84 L1364.07,111.47 L1367.05,108.06 L1370.03,104.60 L1373.01,101.08 L1375.99,97.52 L1378.97,93.91 L1381.95,90.24 L1384.93,86.52 L1387.91,82.75 L1390.89,78.92 L1393.88,75.03 L1396.86,71.09 L1399.84,67.09 L1402.82,63.02 L1405.80,58.90 L1408.78,54.71 L1411.76,50.47 L1414.74,46.15 L1417.72,41.77" fill="none" stroke="#ff8c14" stroke-width="2.4" stroke-linejoin="round"/>
<path d="M796.48,338.58 L799.46,337.90 L802.44,337.22 L805.42,336.53 L808.40,335.84 L811.38,335.14 L814.36,334.45 L817.34,333.75 L820.32,333.04 L823.30,332.34 L826.29,331.63 L829.27,330.92 L832.25,330.20 L835.23,329.48 L838.21,328.76 L841.19,328.03 L844.17,327.31 L847.15,326.57 L850.13,325.84 L853.12,325.10 L856.10,324.36 L859.08,323.61 L862.06,322.86 L865.04,322.11 L868.02,321.36 L871.00,320.60 L873.98,319.83 L876.96,319.07 L879.94,318.30 L882.92,317.52 L885.91,316.75 L888.89,315.97 L891.87,315.18 L894.85,314.39 L897.83,313.60 L900.81,312.81 L903.79,312.01 L906.77,311.20 L909.75,310.40 L912.74,309.59 L915.72,308.77 L918.70,307.95 L921.68,307.13 L924.66,306.30 L927.64,305.47 L930.62,304.64 L933.60,303.80 L936.58,302.95 L939.56,302.11 L942.54,301.26 L945.53,300.40 L948.51,299.54 L951.49,298.68 L954.47,297.81 L957.45,296.94 L960.43,296.06 L963.41,295.18 L966.39,294.29 L969.37,293.40 L972.36,292.50 L975.34,291.60 L978.32,290.70 L981.30,289.79 L984.28,288.88 L987.26,287.96 L990.24,287.04 L993.22,286.11 L996.20,285.17 L999.18,284.24 L1002.16,283.29 L1005.15,282.35 L1008.13,281.39 L1011.11,280.44 L1014.09,279.47 L1017.07,278.50 L1020.05,277.53 L1023.03,276.55 L1026.01,275.57 L1028.99,274.58 L1031.97,273.59 L1034.96,272.59 L1037.94,271.58 L1040.92,270.57 L1043.90,269.55 L1046.88,268.53 L1049.86,267.50 L1052.84,266.47 L1055.82,265.43 L1058.80,264.39 L1061.79,263.34 L1064.77,262.28 L1067.75,261.22 L1070.73,260.15 L1073.71,259.08 L1076.69,257.99 L1079.67,256.91 L1082.65,255.81 L1085.63,254.72 L1088.61,253.61 L1091.60,252.50 L1094.58,251.38 L1097.56,250.25 L1100.54,249.12 L1103.52,247.98 L1106.50,246.84 L1109.48,245.69 L1112.46,244.53 L1115.44,243.36 L1118.42,242.19 L1121.40,241.01 L1124.39,239.82 L1127.37,238.63 L1130.35,237.43 L1133.33,236.22 L1136.31,235.01 L1139.29,233.78 L1142.27,232.55 L1145.25,231.31 L1148.23,230.07 L1151.21,228.81 L1154.20,227.55 L1157.18,226.28 L1160.16,225.01 L1163.14,223.72 L1166.12,222.43 L1169.10,221.13 L1172.08,219.82 L1175.06,218.50 L1178.04,217.17 L1181.03,215.84 L1184.01,214.49 L1186.99,213.14 L1189.97,211.78 L1192.95,210.41 L1195.93,209.03 L1198.91,207.64 L1201.89,206.24 L1204.87,204.83 L1207.85,203.42 L1210.84,201.99 L1213.82,200.56 L1216.80,199.11 L1219.78,197.66 L1222.76,196.19 L1225.74,194.72 L1228.72,193.23 L1231.70,191.74 L1234.68,190.23 L1237.66,188.71 L1240.64,187.19 L1243.63,185.65 L1246.61,184.10 L1249.59,182.54 L1252.57,180.97 L1255.55,179.39 L1258.53,177.80 L1261.51,176.20 L1264.49,174.58 L1267.47,172.95 L1270.45,171.31 L1273.44,169.66 L1276.42,168.00 L1279.40,166.33 L1282.38,164.64 L1285.36,162.94 L1288.34,161.22 L1291.32,159.50 L1294.30,157.76 L1297.28,156.01 L1300.26,154.24 L1303.25,152.47 L1306.23,150.67 L1309.21,148.87 L1312.19,147.05 L1315.17,145.21 L1318.15,143.37 L1321.13,141.50 L1324.11,139.63 L1327.09,137.73 L1330.08,135.83 L1333.06,133.90 L1336.04,131.97 L1339.02,130.01 L1342.00,128.04 L1344.98,126.06 L1347.96,124.06 L1350.94,122.04 L1353.92,120.01 L1356.90,117.96 L1359.88,115.89 L1362.87,113.80 L1365.85,111.70 L1368.83,109.58 L1371.81,107.44 L1374.79,105.28 L1377.77,103.11 L1380.75,100.91 L1383.73,98.70 L1386.71,96.47 L1389.70,94.22 L1392.68,91.95 L1395.66,89.65 L1398.64,87.34 L1401.62,85.01 L1404.60,82.66 L1407.58,80.28 L1410.56,77.89 L1413.54,75.47 L1416.52,73.03" fill="none" stroke="#ff4510" stroke-width="2.4" stroke-linejoin="round"/>
</g>
<rect x="810.0" y="59.5" width="596.2" height="443.1" fill="none" stroke="#404040" stroke-width="2"/>
<path d="M929.24,502.6 V496.6 M1048.48,502.6 V496.6 M1167.72,502.6 V496.6 M1286.96,502.6 V496.6 M810.0,114.89 H816.0 M810.0,170.27 H816.0 M810.0,225.66 H816.0 M810.0,281.05 H816.0 M810.0,336.44 H816.0 M810.0,391.82 H816.0 M810.0,447.21 H816.0" stroke="#404040" stroke-width="1.6" fill="none"/>
<g><g transform="translate(55.47,70.87) scale(0.30000,0.31000)" font-family="Liberation Sans" font-weight="normal" font-style="normal" font-size="100" fill="#000" stroke="#000" stroke-width="1.148" stroke-linejoin="round" style="font-kerning:none" text-rendering="geometricPrecision"><text x="0.00" y="0">3.0</text></g><g transform="translate(55.56,163.97) scale(0.30000,0.31000)" font-family="Liberation Sans" font-weight="normal" font-style="normal" font-size="100" fill="#000" stroke="#000" stroke-width="1.148" stroke-linejoin="round" style="font-kerning:none" text-rendering="geometricPrecision"><text x="0.00" y="0">2.5</text></g><g transform="translate(55.47,256.27) scale(0.30000,0.31000)" font-family="Liberation Sans" font-weight="normal" font-style="normal" font-size="100" fill="#000" stroke="#000" stroke-width="1.148" stroke-linejoin="round" style="font-kerning:none" text-rendering="geometricPrecision"><text x="0.00" y="0">2.0</text></g><g transform="translate(55.56,349.41) scale(0.30000,0.31000)" font-family="Liberation Sans" font-weight="normal" font-style="normal" font-size="100" fill="#000" stroke="#000" stroke-width="1.148" stroke-linejoin="round" style="font-kerning:none" text-rendering="geometricPrecision"><path transform="translate(0.00,0) scale(0.048828,-0.048828)" d="M583 0V1237L265 1010V1180L598 1409H764V0Z" stroke-width="23.50"/><text x="55.62" y="0">.5</text></g><g transform="translate(55.47,442.07) scale(0.30000,0.31000)" font-family="Liberation Sans" font-weight="normal" font-style="normal" font-size="100" fill="#000" stroke="#000" stroke-width="1.148" stroke-linejoin="round" style="font-kerning:none" text-rendering="geometricPrecision"><path transform="translate(0.00,0) scale(0.048828,-0.048828)" d="M583 0V1237L265 1010V1180L598 1409H764V0Z" stroke-width="23.50"/><text x="55.62" y="0">.0</text></g><g transform="translate(759.27,74.37) scale(0.30000,0.31000)" font-family="Liberation Sans" font-weight="normal" font-style="normal" font-size="100" fill="#000" stroke="#000" stroke-width="1.148" stroke-linejoin="round" style="font-kerning:none" text-rendering="geometricPrecision"><text x="0.00" y="0">3.0</text></g><g transform="translate(759.40,128.27) scale(0.30000,0.31000)" font-family="Liberation Sans" font-weight="normal" font-style="normal" font-size="100" fill="#000" stroke="#000" stroke-width="1.148" stroke-linejoin="round" style="font-kerning:none" text-rendering="geometricPrecision"><text x="0.00" y="0">2.8</text></g><g transform="translate(759.41,183.67) scale(0.30000,0.31000)" font-family="Liberation Sans" font-weight="normal" font-style="normal" font-size="100" fill="#000" stroke="#000" stroke-width="1.148" stroke-linejoin="round" style="font-kerning:none" text-rendering="geometricPrecision"><text x="0.00" y="0">2.6</text></g><g transform="translate(758.97,238.42) scale(0.30000,0.31000)" font-family="Liberation Sans" font-weight="normal" font-style="normal" font-size="100" fill="#000" stroke="#000" stroke-width="1.148" stroke-linejoin="round" style="font-kerning:none" text-rendering="geometricPrecision"><text x="0.00" y="0">2.4</text></g><g transform="translate(759.60,292.42) scale(0.30000,0.31000)" font-family="Liberation Sans" font-weight="normal" font-style="normal" font-size="100" fill="#000" stroke="#000" stroke-width="1.148" stroke-linejoin="round" style="font-kerning:none" text-rendering="geometricPrecision"><text x="0.00" y="0">2.2</text></g><g transform="translate(759.27,349.87) scale(0.30000,0.31000)" font-family="Liberation Sans" font-weight="normal" font-style="normal" font-size="100" fill="#000" stroke="#000" stroke-width="1.148" stroke-linejoin="round" style="font-kerning:none" text-rendering="geometricPrecision"><text x="0.00" y="0">2.0</text></g><g transform="translate(759.40,404.17) scale(0.30000,0.31000)" font-family="Liberation Sans" font-weight="normal" font-style="normal" font-size="100" fill="#000" stroke="#000" stroke-width="1.148" stroke-linejoin="round" style="font-kerning:none" text-rendering="geometricPrecision"><path transform="translate(0.00,0) scale(0.048828,-0.048828)" d="M583 0V1237L265 1010V1180L598 1409H764V0Z" stroke-width="23.50"/><text x="55.62" y="0">.8</text></g><g transform="translate(759.41,459.67) scale(0.30000,0.31000)" font-family="Liberation Sans" font-weight="normal" font-style="normal" font-size="100" fill="#000" stroke="#000" stroke-width="1.148" stroke-linejoin="round" style="font-kerning:none" text-rendering="geometricPrecision"><path transform="translate(0.00,0) scale(0.048828,-0.048828)" d="M583 0V1237L265 1010V1180L598 1409H764V0Z" stroke-width="23.50"/><text x="55.62" y="0">.6</text></g><g transform="translate(758.97,514.46) scale(0.30000,0.31000)" font-family="Liberation Sans" font-weight="normal" font-style="normal" font-size="100" fill="#000" stroke="#000" stroke-width="1.148" stroke-linejoin="round" style="font-kerning:none" text-rendering="geometricPrecision"><path transform="translate(0.00,0) scale(0.048828,-0.048828)" d="M583 0V1237L265 1010V1180L598 1409H764V0Z" stroke-width="23.50"/><text x="55.62" y="0">.4</text></g><g transform="translate(94.86,533.35) scale(0.30000,0.31000)" font-family="Liberation Sans" font-weight="normal" font-style="normal" font-size="100" fill="#000" stroke="#000" stroke-width="1.148" stroke-linejoin="round" style="font-kerning:none" text-rendering="geometricPrecision"><text x="0.00" y="0">0</text></g><g transform="translate(202.31,533.35) scale(0.30000,0.31000)" font-family="Liberation Sans" font-weight="normal" font-style="normal" font-size="100" fill="#000" stroke="#000" stroke-width="1.148" stroke-linejoin="round" style="font-kerning:none" text-rendering="geometricPrecision"><text x="0.00" y="0">0.</text><path transform="translate(83.40,0) scale(0.048828,-0.048828)" d="M583 0V1237L265 1010V1180L598 1409H764V0Z" stroke-width="23.50"/></g><g transform="translate(321.62,533.35) scale(0.30000,0.31000)" font-family="Liberation Sans" font-weight="normal" font-style="normal" font-size="100" fill="#000" stroke="#000" stroke-width="1.148" stroke-linejoin="round" style="font-kerning:none" text-rendering="geometricPrecision"><text x="0.00" y="0">0.2</text></g><g transform="translate(441.42,533.35) scale(0.30000,0.31000)" font-family="Liberation Sans" font-weight="normal" font-style="normal" font-size="100" fill="#000" stroke="#000" stroke-width="1.148" stroke-linejoin="round" style="font-kerning:none" text-rendering="geometricPrecision"><text x="0.00" y="0">0.3</text></g><g transform="translate(559.50,533.35) scale(0.30000,0.31000)" font-family="Liberation Sans" font-weight="normal" font-style="normal" font-size="100" fill="#000" stroke="#000" stroke-width="1.148" stroke-linejoin="round" style="font-kerning:none" text-rendering="geometricPrecision"><text x="0.00" y="0">0.4</text></g><g transform="translate(678.19,533.35) scale(0.30000,0.31000)" font-family="Liberation Sans" font-weight="normal" font-style="normal" font-size="100" fill="#000" stroke="#000" stroke-width="1.148" stroke-linejoin="round" style="font-kerning:none" text-rendering="geometricPrecision"><text x="0.00" y="0">0.5</text></g><g transform="translate(802.86,535.25) scale(0.30000,0.31000)" font-family="Liberation Sans" font-weight="normal" font-style="normal" font-size="100" fill="#000" stroke="#000" stroke-width="1.148" stroke-linejoin="round" style="font-kerning:none" text-rendering="geometricPrecision"><text x="0.00" y="0">0</text></g><g transform="translate(910.41,535.25) scale(0.30000,0.31000)" font-family="Liberation Sans" font-weight="normal" font-style="normal" font-size="100" fill="#000" stroke="#000" stroke-width="1.148" stroke-linejoin="round" style="font-kerning:none" text-rendering="geometricPrecision"><text x="0.00" y="0">0.</text><path transform="translate(83.40,0) scale(0.048828,-0.048828)" d="M583 0V1237L265 1010V1180L598 1409H764V0Z" stroke-width="23.50"/></g><g transform="translate(1029.12,535.25) scale(0.30000,0.31000)" font-family="Liberation Sans" font-weight="normal" font-style="normal" font-size="100" fill="#000" stroke="#000" stroke-width="1.148" stroke-linejoin="round" style="font-kerning:none" text-rendering="geometricPrecision"><text x="0.00" y="0">0.2</text></g><g transform="translate(1148.52,535.25) scale(0.30000,0.31000)" font-family="Liberation Sans" font-weight="normal" font-style="normal" font-size="100" fill="#000" stroke="#000" stroke-width="1.148" stroke-linejoin="round" style="font-kerning:none" text-rendering="geometricPrecision"><text x="0.00" y="0">0.3</text></g><g transform="translate(1266.20,535.25) scale(0.30000,0.31000)" font-family="Liberation Sans" font-weight="normal" font-style="normal" font-size="100" fill="#000" stroke="#000" stroke-width="1.148" stroke-linejoin="round" style="font-kerning:none" text-rendering="geometricPrecision"><text x="0.00" y="0">0.4</text></g><g transform="translate(1384.83,535.25) scale(0.30000,0.31000)" font-family="Liberation Sans" font-weight="normal" font-style="normal" font-size="100" fill="#000" stroke="#000" stroke-width="1.148" stroke-linejoin="round" style="font-kerning:none" text-rendering="geometricPrecision"><text x="0.00" y="0">0.5</text></g></g>
<g transform="translate(28.30,322.95) rotate(-90)"><g transform="translate(0.00,0.00) scale(0.34743,0.34000)" font-family="Liberation Sans" font-weight="normal" font-style="normal" font-size="100" fill="#000" stroke="#000" stroke-width="1.018" stroke-linejoin="round" style="font-kerning:none" text-rendering="geometricPrecision"><text x="0.00" y="0">QCRB</text></g></g><g transform="translate(738.80,328.13) rotate(-90)"><g transform="translate(0.00,0.00) scale(0.34384,0.34000)" font-family="Liberation Sans" font-weight="normal" font-style="normal" font-size="100" fill="#000" stroke="#000" stroke-width="1.024" stroke-linejoin="round" style="font-kerning:none" text-rendering="geometricPrecision"><text x="0.00" y="0">QCRB</text></g></g>
<g><g transform="translate(155.67,155.50) scale(0.26020,0.27300)" font-family="Liberation Sans" font-weight="normal" font-style="normal" font-size="100" fill="#7f7f7f" stroke="#7f7f7f" stroke-width="1.313" stroke-linejoin="round" style="font-kerning:none" text-rendering="geometricPrecision"><text x="0.00" y="0">No quantum</text></g><g transform="translate(308.58,155.50) scale(0.26331,0.27300)" font-family="Liberation Sans" font-weight="normal" font-style="normal" font-size="100" fill="#7f7f7f" stroke="#7f7f7f" stroke-width="1.305" stroke-linejoin="round" style="font-kerning:none" text-rendering="geometricPrecision"><text x="0.00" y="0">advantage</text></g><g transform="translate(865.96,158.10) scale(0.26039,0.27300)" font-family="Liberation Sans" font-weight="normal" font-style="normal" font-size="100" fill="#7f7f7f" stroke="#7f7f7f" stroke-width="1.312" stroke-linejoin="round" style="font-kerning:none" text-rendering="geometricPrecision"><text x="0.00" y="0">No quantum</text></g><g transform="translate(1018.58,158.10) scale(0.26331,0.27300)" font-family="Liberation Sans" font-weight="normal" font-style="normal" font-size="100" fill="#7f7f7f" stroke="#7f7f7f" stroke-width="1.305" stroke-linejoin="round" style="font-kerning:none" text-rendering="geometricPrecision"><text x="0.00" y="0">advantage</text></g></g>
<g><g transform="translate(204.04,309.08) rotate(-19.46)"><g transform="translate(0.00,0.00) scale(0.23300,0.23300)" font-family="Liberation Sans" font-weight="normal" font-style="normal" font-size="100" fill="#ff3300" stroke="#ff3300" stroke-width="1.717" stroke-linejoin="round" style="font-kerning:none" text-rendering="geometricPrecision"><text x="0.00" y="0">Standard Quantum Limit</text></g></g><g transform="translate(269.71,417.77) rotate(-28.18)"><g transform="translate(0.00,0.00) scale(0.23300,0.23300)" font-family="Liberation Sans" font-weight="normal" font-style="normal" font-size="100" fill="#f98c2a" stroke="#f98c2a" stroke-width="1.717" stroke-linejoin="round" style="font-kerning:none" text-rendering="geometricPrecision"><text x="0.00" y="0">Balanced NOON state</text></g></g><g transform="translate(323.62,441.11) rotate(-25.62)"><g transform="translate(0.00,0.00) scale(0.23300,0.23300)" font-family="Liberation Sans" font-weight="normal" font-style="normal" font-size="100" fill="#2f60f2" stroke="#2f60f2" stroke-width="1.717" stroke-linejoin="round" style="font-kerning:none" text-rendering="geometricPrecision"><text x="0.00" y="0">Optimal NOON state</text></g></g><g transform="translate(328.08,470.83) rotate(-25.60)"><g transform="translate(-20.08,0.00) scale(0.23300,0.23300)" font-family="Liberation Sans" font-weight="normal" font-style="normal" font-size="100" fill="#000" stroke="#000" stroke-width="1.717" stroke-linejoin="round" style="font-kerning:none" text-rendering="geometricPrecision"><text x="0.00" y="0">= </text></g><g transform="translate(0.00,0.00) scale(0.23300,0.23300)" font-family="Liberation Sans" font-weight="normal" font-style="normal" font-size="100" fill="#12c45a" stroke="#12c45a" stroke-width="1.717" stroke-linejoin="round" style="font-kerning:none" text-rendering="geometricPrecision"><text x="0.00" y="0">Humphreys’ NOON state</text></g></g><g transform="translate(908.15,293.65) rotate(-17.16)"><g transform="translate(0.00,0.00) scale(0.23300,0.23300)" font-family="Liberation Sans" font-weight="normal" font-style="normal" font-size="100" fill="#ff3300" stroke="#ff3300" stroke-width="1.717" stroke-linejoin="round" style="font-kerning:none" text-rendering="geometricPrecision"><text x="0.00" y="0">Standard Quantum Limit</text></g></g><g transform="translate(920.96,336.56) rotate(-16.94)"><g transform="translate(0.00,0.00) scale(0.23300,0.23300)" font-family="Liberation Sans" font-weight="normal" font-style="normal" font-size="100" fill="#f98c2a" stroke="#f98c2a" stroke-width="1.717" stroke-linejoin="round" style="font-kerning:none" text-rendering="geometricPrecision"><text x="0.00" y="0">Balanced NOON state</text></g></g><g transform="translate(900.45,399.11) rotate(-19.41)"><g transform="translate(0.00,0.00) scale(0.23300,0.23300)" font-family="Liberation Sans" font-weight="normal" font-style="normal" font-size="100" fill="#12c45a" stroke="#12c45a" stroke-width="1.717" stroke-linejoin="round" style="font-kerning:none" text-rendering="geometricPrecision"><text x="0.00" y="0">Humphreys’ NOON state</text></g></g><g transform="translate(980.34,464.37) rotate(-26.71)"><g transform="translate(0.00,0.00) scale(0.23300,0.23300)" font-family="Liberation Sans" font-weight="normal" font-style="normal" font-size="100" fill="#2f60f2" stroke="#2f60f2" stroke-width="1.717" stroke-linejoin="round" style="font-kerning:none" text-rendering="geometricPrecision"><text x="0.00" y="0">Optimal NOON state</text></g></g></g>
<defs><g id="gam"><path d="M16.3,0.1 L20.6,0.1 L6.9,26.4 L2.6,26.4 Z"/><path d="M0.3,2.6 C0.4,1.6 1.3,0.6 2.6,0.2 C3.8,-0.1 5.6,-0.1 6.8,0.5 C8.3,1.3 9.0,4.0 9.2,7.5 L9.5,15.5 L6.2,20.8 L5.8,12.0 C5.7,7.5 5.4,4.2 4.2,2.9 C3.4,2.1 2.4,2.3 1.7,3.0 C1.4,3.4 0.9,3.6 0.6,3.4 C0.3,3.2 0.25,2.9 0.3,2.6 Z"/></g></defs>
<g fill="#000"><g transform="translate(-1.89,24.58) scale(0.30826,0.34330)" font-family="Liberation Sans" font-weight="bold" font-style="normal" font-size="100" fill="#000" style="font-kerning:none" text-rendering="geometricPrecision"><text x="0.00" y="0">(</text></g><g transform="translate(9.48,24.72) scale(0.31320,0.34042)" font-family="Liberation Sans" font-weight="bold" font-style="normal" font-size="100" fill="#000" style="font-kerning:none" text-rendering="geometricPrecision"><text x="0.00" y="0">a</text></g><g transform="translate(28.87,24.58) scale(0.32598,0.34330)" font-family="Liberation Sans" font-weight="bold" font-style="normal" font-size="100" fill="#000" style="font-kerning:none" text-rendering="geometricPrecision"><text x="0.00" y="0">)</text></g><use href="#gam" transform="translate(56.60,7.80) scale(0.7463,0.7614)"/><g transform="translate(71.80,28.10) scale(0.28766,0.23184)" font-family="Liberation Serif" font-weight="normal" font-style="normal" font-size="100" fill="#000" stroke="#000" stroke-width="1.347" stroke-linejoin="round" style="font-kerning:none" text-rendering="geometricPrecision"><text x="0.00" y="0">ref</text></g><rect x="113.6" y="9.30" width="18.2" height="2.1" rx="0.9"/><rect x="113.6" y="15.55" width="18.2" height="2.1" rx="0.9"/><use href="#gam" transform="translate(142.70,7.80) scale(0.7415,0.7614)"/><g transform="translate(177.08,22.03) scale(0.34068,0.30494)" font-family="Liberation Serif" font-weight="normal" font-style="normal" font-size="100" fill="#000" stroke="#000" stroke-width="1.084" stroke-linejoin="round" style="font-kerning:none" text-rendering="geometricPrecision"><text x="0.00" y="0">(</text></g><g transform="translate(190.58,23.72) scale(0.28098,0.29704)" font-family="Liberation Serif" font-weight="normal" font-style="italic" font-size="100" fill="#000" stroke="#000" stroke-width="1.211" stroke-linejoin="round" style="font-kerning:none" text-rendering="geometricPrecision"><text x="0.00" y="0">N</text></g><rect x="222.6" y="11.55" width="18.2" height="2.1" rx="0.9"/><rect x="222.6" y="17.55" width="18.2" height="2.1" rx="0.9"/><g transform="translate(250.86,23.72) scale(0.32304,0.29376)" font-family="Liberation Serif" font-weight="normal" font-style="normal" font-size="100" fill="#000" stroke="#000" stroke-width="1.135" stroke-linejoin="round" style="font-kerning:none" text-rendering="geometricPrecision"><text x="0.00" y="0">2</text></g><g transform="translate(266.36,24.04) scale(0.37267,0.27839)" font-family="Liberation Serif" font-weight="normal" font-style="normal" font-size="100" fill="#000" stroke="#000" stroke-width="1.075" stroke-linejoin="round" style="font-kerning:none" text-rendering="geometricPrecision"><text x="0.00" y="0">,</text></g><g transform="translate(280.05,23.72) scale(0.30604,0.29612)" font-family="Liberation Serif" font-weight="normal" font-style="italic" font-size="100" fill="#000" stroke="#000" stroke-width="1.162" stroke-linejoin="round" style="font-kerning:none" text-rendering="geometricPrecision"><text x="0.00" y="0">d</text></g><rect x="307.6" y="11.55" width="18.2" height="2.1" rx="0.9"/><rect x="307.6" y="17.55" width="18.2" height="2.1" rx="0.9"/><g transform="translate(337.06,23.72) scale(0.32304,0.29376)" font-family="Liberation Serif" font-weight="normal" font-style="normal" font-size="100" fill="#000" stroke="#000" stroke-width="1.135" stroke-linejoin="round" style="font-kerning:none" text-rendering="geometricPrecision"><text x="0.00" y="0">2</text></g><g transform="translate(351.23,22.03) scale(0.38741,0.30494)" font-family="Liberation Serif" font-weight="normal" font-style="normal" font-size="100" fill="#000" stroke="#000" stroke-width="1.011" stroke-linejoin="round" style="font-kerning:none" text-rendering="geometricPrecision"><text x="0.00" y="0">)</text></g><g transform="translate(706.96,28.68) scale(0.30826,0.34330)" font-family="Liberation Sans" font-weight="bold" font-style="normal" font-size="100" fill="#000" style="font-kerning:none" text-rendering="geometricPrecision"><text x="0.00" y="0">(</text></g><g transform="translate(717.63,28.87) scale(0.35919,0.33634)" font-family="Liberation Sans" font-weight="bold" font-style="normal" font-size="100" fill="#000" style="font-kerning:none" text-rendering="geometricPrecision"><text x="0.00" y="0">b</text></g><g transform="translate(740.17,28.68) scale(0.30826,0.34330)" font-family="Liberation Sans" font-weight="bold" font-style="normal" font-size="100" fill="#000" style="font-kerning:none" text-rendering="geometricPrecision"><text x="0.00" y="0">)</text></g><use href="#gam" transform="translate(764.90,10.00) scale(0.7463,0.7841)"/><g transform="translate(780.30,30.60) scale(0.28674,0.22763)" font-family="Liberation Serif" font-weight="normal" font-style="normal" font-size="100" fill="#000" stroke="#000" stroke-width="1.361" stroke-linejoin="round" style="font-kerning:none" text-rendering="geometricPrecision"><text x="0.00" y="0">ref</text></g><rect x="821.8" y="11.95" width="18.1" height="2.1" rx="0.9"/><rect x="821.8" y="17.85" width="18.1" height="2.1" rx="0.9"/><g transform="translate(851.33,24.40) scale(0.30140,0.30109)" font-family="Liberation Serif" font-weight="normal" font-style="normal" font-size="100" fill="#000" stroke="#000" stroke-width="1.162" stroke-linejoin="round" style="font-kerning:none" text-rendering="geometricPrecision"><text x="0.00" y="0">0.5</text></g><g transform="translate(910.16,21.76) scale(0.36794,0.30384)" font-family="Liberation Serif" font-weight="normal" font-style="normal" font-size="100" fill="#000" stroke="#000" stroke-width="1.042" stroke-linejoin="round" style="font-kerning:none" text-rendering="geometricPrecision"><text x="0.00" y="0">(</text></g><g transform="translate(923.87,23.72) scale(0.27265,0.31079)" font-family="Liberation Serif" font-weight="normal" font-style="italic" font-size="100" fill="#000" stroke="#000" stroke-width="1.200" stroke-linejoin="round" style="font-kerning:none" text-rendering="geometricPrecision"><text x="0.00" y="0">N</text></g><rect x="955.7" y="10.95" width="18.3" height="2.1" rx="0.9"/><rect x="955.7" y="16.85" width="18.3" height="2.1" rx="0.9"/><g transform="translate(984.13,23.72) scale(0.30558,0.30735)" font-family="Liberation Serif" font-weight="normal" font-style="normal" font-size="100" fill="#000" stroke="#000" stroke-width="1.142" stroke-linejoin="round" style="font-kerning:none" text-rendering="geometricPrecision"><text x="0.00" y="0">2</text></g><g transform="translate(999.91,24.04) scale(0.33238,0.27839)" font-family="Liberation Serif" font-weight="normal" font-style="normal" font-size="100" fill="#000" stroke="#000" stroke-width="1.146" stroke-linejoin="round" style="font-kerning:none" text-rendering="geometricPrecision"><text x="0.00" y="0">,</text></g><g transform="translate(1013.44,23.71) scale(0.30815,0.30322)" font-family="Liberation Serif" font-weight="normal" font-style="italic" font-size="100" fill="#000" stroke="#000" stroke-width="1.145" stroke-linejoin="round" style="font-kerning:none" text-rendering="geometricPrecision"><text x="0.00" y="0">d</text></g><rect x="1040.4" y="10.95" width="18.5" height="2.1" rx="0.9"/><rect x="1040.4" y="16.85" width="18.5" height="2.1" rx="0.9"/><g transform="translate(1069.97,23.72) scale(0.32055,0.30735)" font-family="Liberation Serif" font-weight="normal" font-style="normal" font-size="100" fill="#000" stroke="#000" stroke-width="1.115" stroke-linejoin="round" style="font-kerning:none" text-rendering="geometricPrecision"><text x="0.00" y="0">2</text></g><g transform="translate(1084.31,21.76) scale(0.36015,0.30384)" font-family="Liberation Serif" font-weight="normal" font-style="normal" font-size="100" fill="#000" stroke="#000" stroke-width="1.054" stroke-linejoin="round" style="font-kerning:none" text-rendering="geometricPrecision"><text x="0.00" y="0">)</text></g><use href="#gam" transform="translate(389.20,547.30) scale(1.0000,1.0000)"/><use href="#gam" transform="translate(1097.00,548.00) scale(0.9756,1.0000)"/></g>
</svg></body></html>
